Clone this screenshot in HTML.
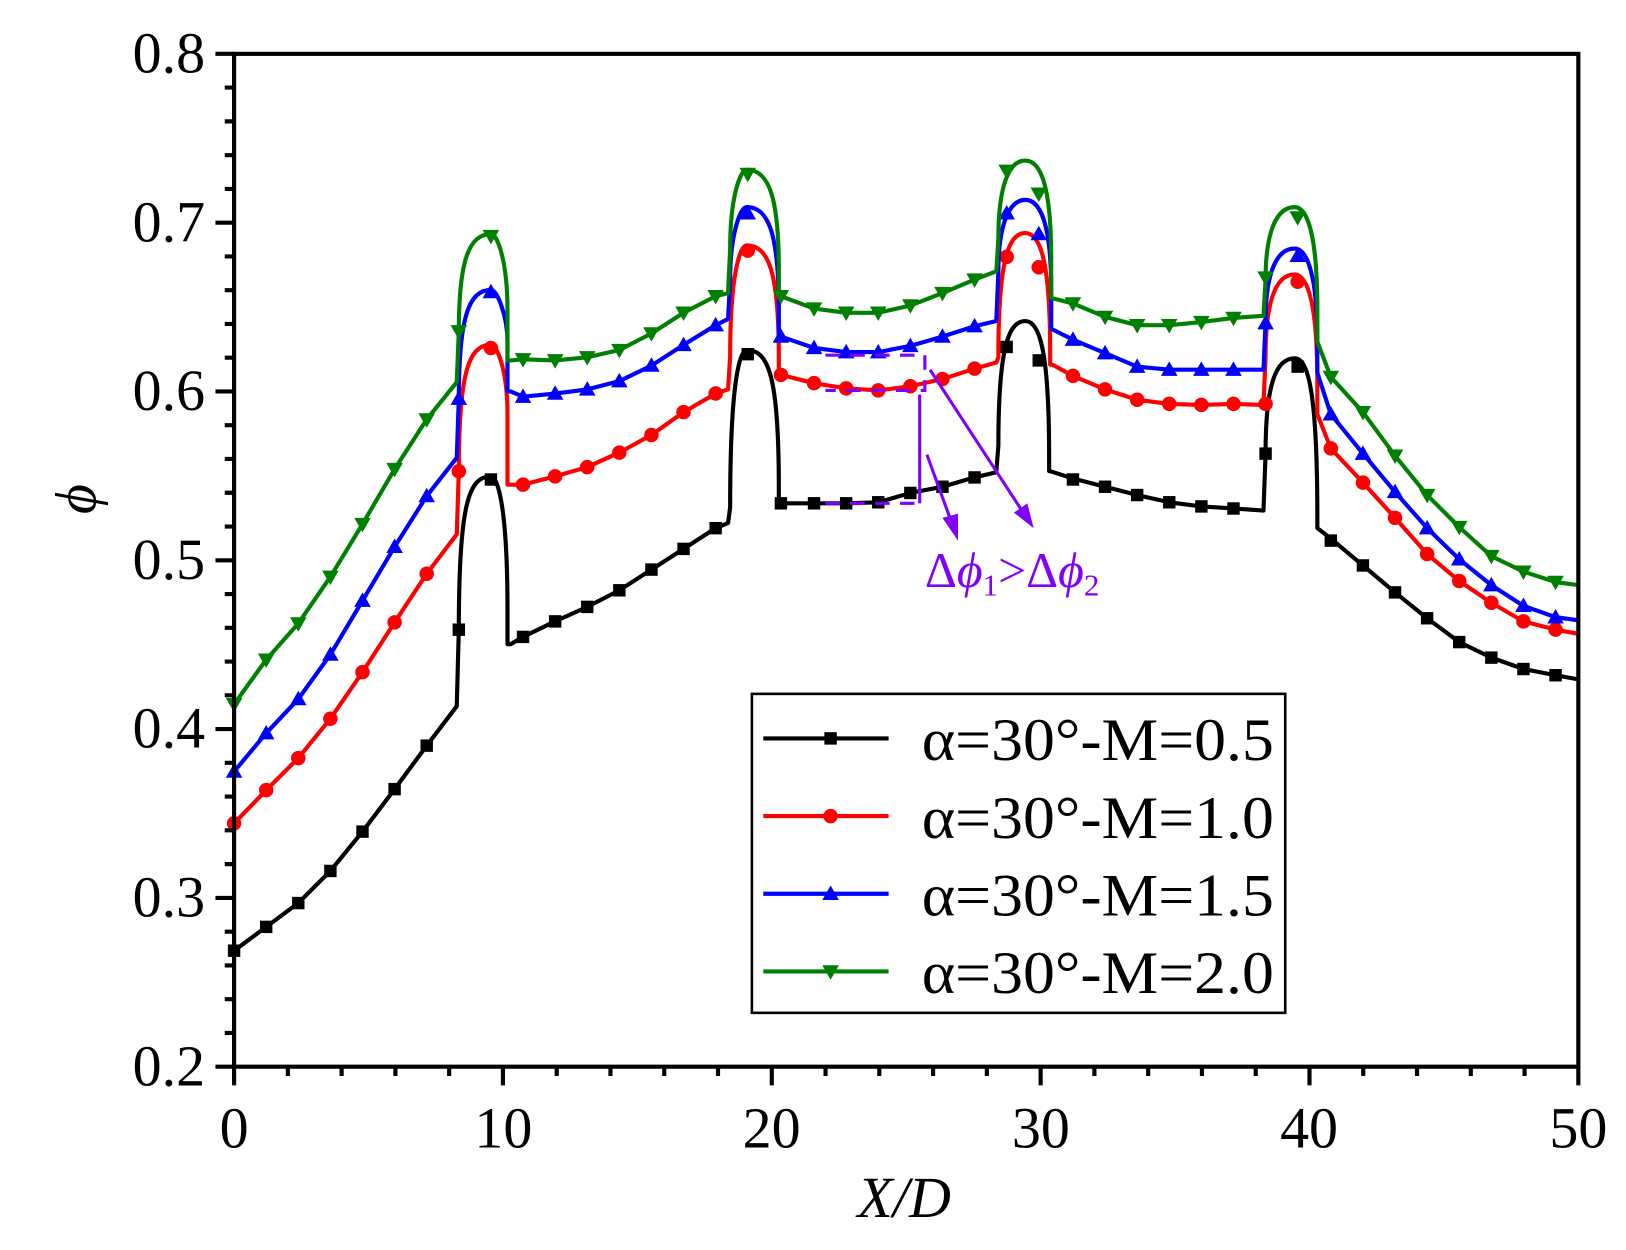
<!DOCTYPE html>
<html><head><meta charset="utf-8"><style>html,body{margin:0;padding:0;background:#fff}svg{display:block}</style></head>
<body>
<svg id="s" width="1626" height="1250" viewBox="0 0 1570 1207" xmlns="http://www.w3.org/2000/svg" font-family="'Liberation Serif', serif">
<rect width="1570" height="1207" fill="#fff"/>
<g id="plot"></g>
<g id="axes" stroke="#000" stroke-width="4" fill="none"></g>
<g font-size="56" fill="#000">
<text x="198" y="70" text-anchor="end">0.8</text>
<text x="198" y="233" text-anchor="end">0.7</text>
<text x="198" y="396" text-anchor="end">0.6</text>
<text x="198" y="559" text-anchor="end">0.5</text>
<text x="198" y="722" text-anchor="end">0.4</text>
<text x="198" y="885" text-anchor="end">0.3</text>
<text x="198" y="1048" text-anchor="end">0.2</text>
<text x="226" y="1108" text-anchor="middle">0</text>
<text x="486" y="1108" text-anchor="middle">10</text>
<text x="745" y="1108" text-anchor="middle">20</text>
<text x="1005" y="1108" text-anchor="middle">30</text>
<text x="1264" y="1108" text-anchor="middle">40</text>
<text x="1524" y="1108" text-anchor="middle">50</text>
<text x="873" y="1175" text-anchor="middle" font-style="italic">X/D</text>
<text x="0" y="0" font-style="italic" transform="translate(92,482) rotate(-90)" text-anchor="middle">ϕ</text>
</g>
<g id="legend">
<rect x="726" y="670" width="515" height="308" fill="#fff" stroke="#000" stroke-width="2.5"/>
</g>
<g stroke="#8000ff" stroke-width="3" fill="none">
<path d="M797 343 H893 V377 H797" stroke-dasharray="14 10"/>
<path d="M888 381 V486"/>
<path d="M797 486 H888" stroke-dasharray="14 10"/>
<path d="M895 439 L919 505"/>
<path d="M898 357 L988 495"/>
</g>
<g fill="#8000ff">
<path d="M925 522 L910 500 L925 496 Z"/>
<path d="M998 510 L979 495 L992 486 Z"/>
<text x="893" y="567" font-size="48">Δ<tspan font-style="italic">ϕ</tspan><tspan font-size="30" dy="8">1</tspan><tspan dy="-8">&gt;Δ</tspan><tspan font-style="italic">ϕ</tspan><tspan font-size="30" dy="8">2</tspan></text>
</g>
</svg>
<script>
const NS="http://www.w3.org/2000/svg";
function el(t,a,p){const e=document.createElementNS(NS,t);for(const k in a)e.setAttribute(k,a[k]);p.appendChild(e);return e;}
const ax=document.getElementById('axes');
el('rect',{x:226,y:52,width:1298,height:978},ax);
let d='';
for(let i=0;i<=30;i++){const y=1030-i*32.6;const L=(i%5==0)?18:9;d+=`M226 ${y} h${-L} `;}
for(let i=0;i<=25;i++){const x=226+i*51.92;const L=(i%5==0)?18:9;d+=`M${x} 1030 v${L} `;}
el('path',{d:d},ax);
const S=[
{c:'#000',m:'sq',
 segs:[[[226,918],[257,895],[288,872],[319,841],[350,803],[381,762],[412,720],[441,682]],
       [[493,622],[505,615],[536,600],[567,586],[598,570],[629,550],[660,530],[691,510],[703,505]],
       [[754,486],[786,486],[817,486],[848,485],[879,476],[910,470],[941,461],[962,456]],
       [[1014,455],[1036,462],[1067,470],[1098,478],[1129,485],[1160,489],[1191,491],[1220,493]],
       [[1272,510],[1285,520],[1316,546],[1347,572],[1378,597],[1409,620],[1440,635],[1471,646],[1502,652],[1524,656]]],
 peaks:[[443,608,474,460,490,590],[705,490,721,338,752,470],[964,430,990,310,1013,440],[1222,438,1250,346,1272,500]],
 marks:[[226,918],[257,895],[288,872],[319,841],[350,803],[381,762],[412,720],[443,608],[474,463],[505,615],[536,600],[567,586],[598,570],[629,550],[660,530],[691,510],[722,342],[754,486],[786,486],[817,486],[848,485],[879,476],[910,470],[941,461],[972,335],[1003,348],[1036,463],[1067,470],[1098,478],[1129,485],[1160,489],[1191,491],[1222,438],[1253,354],[1285,522],[1316,546],[1347,572],[1378,597],[1409,620],[1440,635],[1471,646],[1502,652]]},
{c:'#f00',m:'ci',
 segs:[[[226,795],[257,763],[288,732],[319,694],[350,649],[381,601],[412,554],[441,516]],
       [[493,468],[505,468],[536,460],[567,451],[598,437],[629,420],[660,398],[691,380],[703,376]],
       [[754,362],[786,370],[817,375],[848,377],[879,373],[910,366],[941,356],[962,350]],
       [[1016,352],[1036,363],[1067,376],[1098,386],[1129,390],[1160,391],[1191,390],[1220,391]],
       [[1272,400],[1285,433],[1316,466],[1347,500],[1378,535],[1409,561],[1440,582],[1471,600],[1502,608],[1524,612]]],
 peaks:[[443,455,474,333,490,400],[705,344,721,237,752,345],[964,345,990,225,1014,340],[1222,345,1250,265,1272,370]],
 marks:[[226,795],[257,763],[288,732],[319,694],[350,649],[381,601],[412,554],[443,455],[474,336],[505,468],[536,460],[567,451],[598,437],[629,420],[660,398],[691,380],[722,242],[754,362],[786,370],[817,375],[848,377],[879,373],[910,366],[941,356],[972,248],[1003,258],[1036,363],[1067,376],[1098,386],[1129,390],[1160,391],[1191,390],[1222,390],[1253,272],[1285,433],[1316,466],[1347,500],[1378,535],[1409,561],[1440,582],[1471,600],[1502,608]]},
{c:'#00f',m:'tu',
 segs:[[[226,745],[257,708],[288,675],[319,632],[350,580],[381,528],[412,479],[441,442]],
       [[493,378],[505,383],[536,380],[567,376],[598,368],[629,353],[660,333],[691,314],[703,308]],
       [[754,325],[786,336],[817,340],[848,340],[879,334],[910,325],[941,315],[962,310]],
       [[1016,318],[1036,328],[1067,341],[1098,354],[1129,357],[1160,357],[1191,357],[1220,357]],
       [[1272,360],[1285,400],[1316,438],[1347,475],[1378,510],[1409,540],[1440,565],[1471,585],[1502,596],[1524,599]]],
 peaks:[[443,385,474,280,490,330],[705,270,721,200,752,300],[964,262,990,193,1015,280],[1222,310,1250,240,1272,330]],
 marks:[[226,745],[257,708],[288,675],[319,632],[350,580],[381,528],[412,479],[443,385],[474,282],[505,383],[536,380],[567,376],[598,368],[629,353],[660,333],[691,314],[722,206],[754,325],[786,336],[817,340],[848,340],[879,334],[910,325],[941,315],[972,206],[1003,226],[1036,328],[1067,341],[1098,354],[1129,357],[1160,357],[1191,357],[1222,312],[1253,247],[1285,400],[1316,438],[1347,475],[1378,510],[1409,540],[1440,565],[1471,585],[1502,596]]},
{c:'#008000',m:'td',
 segs:[[[226,680],[257,637],[288,602],[319,557],[350,506],[381,453],[412,405],[441,369]],
       [[493,348],[505,347],[536,348],[567,345],[598,338],[629,322],[660,302],[691,286],[703,283]],
       [[754,286],[786,298],[817,302],[848,302],[879,295],[910,283],[941,270],[962,262]],
       [[1016,288],[1036,293],[1067,306],[1098,314],[1129,314],[1160,311],[1191,307],[1220,305]],
       [[1272,330],[1285,364],[1316,398],[1347,440],[1378,478],[1409,509],[1440,537],[1471,552],[1502,562],[1524,565]]],
 peaks:[[443,320,474,226,490,300],[705,240,721,164,752,260],[964,230,990,155,1015,250],[1222,270,1250,200,1272,300]],
 marks:[[226,680],[257,637],[288,602],[319,557],[350,506],[381,453],[412,405],[443,320],[474,228],[505,347],[536,348],[567,345],[598,338],[629,322],[660,302],[691,286],[722,168],[754,286],[786,298],[817,302],[848,302],[879,295],[910,283],[941,270],[972,165],[1003,187],[1036,293],[1067,306],[1098,314],[1129,314],[1160,311],[1191,307],[1222,268],[1253,210],[1285,364],[1316,398],[1347,440],[1378,478],[1409,509],[1440,537],[1471,552],[1502,562]]}
];
const plot=document.getElementById('plot');
function marker(m,x,y,c,g){
 if(m==='sq') el('rect',{x:x-6,y:y-6,width:12,height:12,fill:c},g);
 else if(m==='ci') el('circle',{cx:x,cy:y,r:7,fill:c},g);
 else if(m==='tu') el('path',{d:`M${x} ${y-8} L${x+8} ${y+6} L${x-8} ${y+6}Z`,fill:c},g);
 else el('path',{d:`M${x} ${y+8} L${x+8} ${y-6} L${x-8} ${y-6}Z`,fill:c},g);
}
S.forEach(s=>{
 let d='M'+s.segs[0].map(p=>p.join(' ')).join(' L');
 for(let i=0;i<4;i++){
  const [x0,yA,xp,pk,x1,yB]=s.peaks[i];
  const nx=s.segs[i+1][0];
  d+=` L${x0} ${yA} C${x0} ${pk+25} ${x0+10} ${pk} ${xp} ${pk} C${x1-10} ${pk} ${x1} ${pk+25} ${x1} ${yB} L${x1} ${nx[1]} L`+s.segs[i+1].map(p=>p.join(' ')).join(' L');
 }
 el('path',{d:d,stroke:s.c,'stroke-width':4,fill:'none','stroke-linejoin':'round'},plot);
 s.marks.forEach(p=>marker(s.m,p[0],p[1],s.c,plot));
});
const lg=document.getElementById('legend');
const labs=['α=30°-M=0.5','α=30°-M=1.0','α=30°-M=1.5','α=30°-M=2.0'];
S.forEach((s,i)=>{
 const y=713+i*75;
 el('line',{x1:737,x2:858,y1:y,y2:y,stroke:s.c,'stroke-width':4},lg);
 marker(s.m,802,y,s.c,lg);
 const t=el('text',{x:890,y:y+21,'font-size':58,fill:'#000',textLength:340,lengthAdjust:'spacingAndGlyphs'},lg);
 t.textContent=labs[i];
});
</script>
</body></html>
